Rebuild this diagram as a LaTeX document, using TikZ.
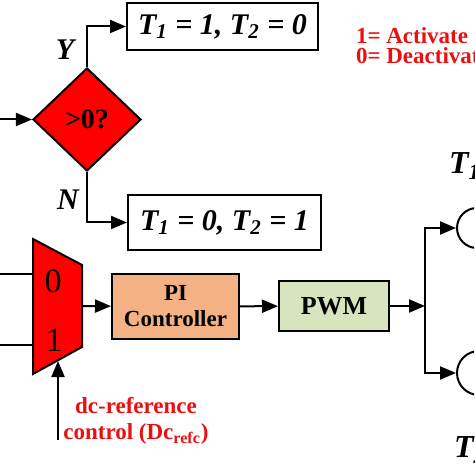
\documentclass[tikz,border=0pt]{standalone}
\usepackage{fontspec}
\setmainfont{Liberation Serif}
\usetikzlibrary{arrows.meta,shapes.geometric,positioning}
\definecolor{pifill}{HTML}{F4B183}
\definecolor{pwmfill}{HTML}{D7E4BD}
\definecolor{redtxt}{HTML}{E81010}
\tikzset{
    %Define standard arrow tip
    >={Triangle[length=8pt,width=6.5pt]},
    %Define style for boxes
    decision/.style={
           diamond,
           draw=black, line width=1pt,
           fill=red,
           inner sep=0pt,
           minimum width=54pt,
           minimum height=51.5pt,
           font=\fontsize{14}{16}\selectfont\bfseries},
    outbox/.style={
           rectangle,
           draw=black, line width=1pt,
           inner sep=0pt,
           font=\fontsize{15}{18}\selectfont\bfseries\itshape},
    pibox/.style={
           rectangle,
           draw=black, line width=1pt,
           fill=pifill,
           align=center,
           minimum width=63.5pt,
           minimum height=32.5pt,
           font=\fontsize{11.5}{13}\selectfont\bfseries},
    pwmbox/.style={
           rectangle,
           draw=black, line width=1pt,
           fill=pwmfill,
           minimum width=55pt,
           minimum height=25pt,
           font=\fontsize{13}{15}\selectfont\bfseries},
    switchnode/.style={
           circle,
           draw=black, line width=1pt,
           inner sep=0pt},
    lbl/.style={
           font=\fontsize{15}{18}\selectfont\bfseries\itshape},
    note/.style={
           text=redtxt,
           align=left,
           font=\fontsize{11.5}{11}\selectfont\bfseries},
    % Define arrow style
    pil/.style={
           ->,
           line width=1pt}
}
\begin{document}
\begin{tikzpicture}[x=0.5pt,y=-0.5pt,line width=1pt]
\useasboundingbox (0,0) rectangle (474,474);
\clip (0,0) rectangle (474,474);
 %nodes
\node[decision](dec) at (87,119.5){>0?};
\node[outbox, minimum width=95.5pt, minimum height=23.5pt](top) at (222.5,26.5){T\textsubscript{1} = 1, T\textsubscript{2} = 0};
\node[outbox, minimum width=96.5pt, minimum height=27.5pt](bot) at (224.5,222.5){T\textsubscript{1} = 0, T\textsubscript{2} = 1};
\node[pibox](pi) at (175.5,306.5){PI\\Controller};
\node[pwmbox](pwm) at (334,306){PWM};
\node[switchnode, minimum size=20pt](sw1) at (477,228){};
\node[switchnode, minimum size=22pt](sw2) at (479,373){};
\node[lbl](ylab) at (65,50){Y};
\node[lbl](nlab) at (68,200){N};
\node[lbl, anchor=west, inner sep=0pt, font=\fontsize{16}{18}\selectfont\bfseries\itshape](t1) at (448,166){T\textsubscript{1}};
\node[lbl, anchor=west, inner sep=0pt, font=\fontsize{16}{18}\selectfont\bfseries\itshape](t2) at (453,450){T\textsubscript{2}};
\node[note, anchor=west, inner sep=0pt](legend) at (355,46){1= Activate\\[-1pt]0= Deactivate};
\node[note, align=center](dcref) at (136,421){dc-reference\\[2pt]control (Dc\textsubscript{refc})};

 %multiplexer
\coordinate (mtl) at (33,239);
\coordinate (mtr) at (82,265);
\coordinate (mbr) at (82,347);
\coordinate (mbl) at (33,374);
\draw[fill=red] (mtl) -- (mtr) -- (mbr) -- (mbl) -- cycle;
\node[font=\fontsize{17}{18}\selectfont](m0) at (53,281){0};
\node[font=\fontsize{17}{18}\selectfont](m1) at (54,340){1};
\coordinate (mout) at (82,306);
\coordinate (min0) at (33,274);
\coordinate (min1) at (33,345);
\coordinate (mctl) at (58,361);

 %free ends
\coordinate (in) at (0,119.5);
\coordinate (e0) at (0,274);
\coordinate (e1) at (0,345);
\coordinate (ctl) at (58,440);
\coordinate (jn) at (425,306);

 %connectors
\draw[pil] (in) -- (dec);
\draw[pil] (dec.north) |- (top.west);
\draw[pil] (dec.south) |- (bot.west);
\draw (e0) -- (min0);
\draw (e1) -- (min1);
\draw[pil] (mout) -- (pi);
\draw[pil] (ctl) -- (mctl);
\draw[pil] (pi) -- (pwm);
\draw[pil] (pwm) -- (jn);
\draw[pil] (jn) |- (sw1);
\draw[pil] (jn) |- (sw2);
\end{tikzpicture}
\end{document}
